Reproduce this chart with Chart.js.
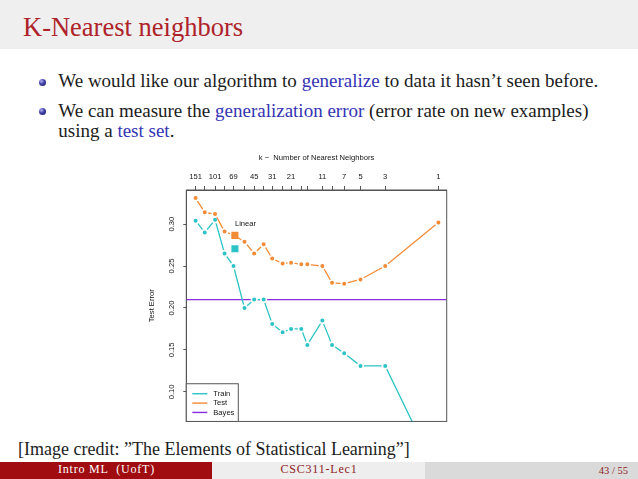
<!DOCTYPE html>
<html><head><meta charset="utf-8">
<script src="https://cdn.jsdelivr.net/npm/chart.js@4.4.0/dist/chart.umd.min.js"></script>
<style>
html,body{margin:0;padding:0;width:638px;height:479px;overflow:hidden;background:#fff;}
.abs{position:absolute;white-space:nowrap;}
.serif{font-family:"Liberation Serif","Times New Roman",serif;}
#titlebar{left:0;top:0;width:638px;height:49px;background:#EFEFEF;}
#title{left:23px;top:13.8px;font-size:26.5px;line-height:26.5px;color:#AE2229;}
.bul{left:58.3px;font-size:19px;line-height:19px;color:#1c1c1c;}
.hl{color:#3434B4;}
.ball{width:7px;height:7px;border-radius:50%;left:39.2px;background:radial-gradient(circle at 35% 32%, #b8b8f0 0%, #4646b0 40%, #15155a 100%);}
#credit{left:18px;top:440.4px;font-size:18px;line-height:18px;color:#1c1c1c;}
.fb{top:462.3px;height:16.7px;}
.ft{top:463.3px;font-size:12px;line-height:12px;}
#wrap{position:absolute;left:130px;top:145px;width:330px;height:285px;}
</style>
</head>
<body>
<div class="abs" id="titlebar"></div>
<div class="abs serif" id="title">K-Nearest neighbors</div>

<div class="abs ball" style="top:79.2px"></div>
<div class="abs serif bul" style="top:71.4px">We would like our algorithm to <span class="hl">generalize</span> to data it hasn’t seen before.</div>
<div class="abs ball" style="top:108.2px"></div>
<div class="abs serif bul" style="top:101.4px">We can measure the <span class="hl">generalization error</span> (error rate on new examples)</div>
<div class="abs serif bul" style="top:121.4px">using a <span class="hl">test set</span>.</div>

<div id="wrap"><canvas id="c"></canvas></div>

<div class="abs serif" id="credit">[Image credit: ”The Elements of Statistical Learning”]</div>

<div class="abs fb" style="left:0;width:212px;background:#A00C10;"></div>
<div class="abs fb" style="left:212px;width:213px;background:#EEEEEE;"></div>
<div class="abs fb" style="left:425px;width:213px;background:#DADADA;"></div>
<div class="abs serif ft" style="left:0;width:213px;text-align:center;color:#fff;letter-spacing:0.8px;">Intro ML&nbsp;&nbsp;(UofT)</div>
<div class="abs serif ft" style="left:212px;width:214px;text-align:center;color:#8E1B1B;letter-spacing:0.8px;">CSC311-Lec1</div>
<div class="abs serif ft" style="left:500px;width:128px;text-align:right;color:#8E1B1B;font-size:10.5px;top:464.5px;">43 / 55</div>

<script>
// ---- data ----
const kValues   = [151,125,101,83,69,55,45,37,31,25,21,17,15,11,9,7,5,3,1];
const kLabeled  = [151,101,69,45,31,21,11,7,5,3,1];
const trainError = [0.304,0.290,0.305,0.265,0.250,0.200,0.210,0.210,0.181,0.171,0.175,0.175,0.156,0.185,0.156,0.146,0.131,0.131,0.000];
const testError  = [0.331,0.314,0.312,0.291,0.287,0.279,0.265,0.276,0.259,0.253,0.254,0.252,0.252,0.250,0.230,0.229,0.234,0.250,0.302];
const bayesError = 0.21;
const linearK     = [67];
const linearTrain = [0.2705];
const linearTest  = [0.2865];
const yTicks  = [0.10,0.15,0.20,0.25,0.30];
const kRange  = [0.842, 183];
const errRange = [0.0648, 0.3406];
const linearLabel = {text:'Linear', k:67, err:0.300};

const CYAN='#2CC3C6', ORANGE='#F28B36', PURPLE='#8A2BE2';
Chart.defaults.font.family = '"Liberation Sans", Arial, sans-serif';
Chart.defaults.font.size = 7.6;
Chart.defaults.color = '#151515';

const pts = (ks, vs) => ks.map((k,i)=>({x:k, y:vs[i]}));

const framePlugin = {
  id:'frame',
  afterDatasetsDraw(chart){
    const {ctx, chartArea:a} = chart;
    ctx.save();
    ctx.strokeStyle='#555'; ctx.lineWidth=1;
    ctx.strokeRect(a.left, a.top, a.right-a.left, a.bottom-a.top);
    const xs=chart.scales.x, ys=chart.scales.y;
    ctx.fillStyle='#151515'; ctx.font='7.6px "Liberation Sans", Arial, sans-serif';
    ctx.textAlign='left'; ctx.textBaseline='middle';
    ctx.fillText(linearLabel.text, xs.getPixelForValue(linearLabel.k), ys.getPixelForValue(linearLabel.err));
    const items = chart.data.datasets.filter(d=>d.inLegend);
    const bx=a.left, bw=52, bh=37.7, by=a.bottom-bh;
    ctx.fillStyle='#fff'; ctx.fillRect(bx,by,bw,bh);
    ctx.strokeStyle='#555'; ctx.strokeRect(bx,by,bw,bh);
    items.forEach((d,i)=>{
      const y = by+10+i*9.35;
      ctx.strokeStyle=d.borderColor; ctx.lineWidth=1.4;
      ctx.beginPath(); ctx.moveTo(bx+6,y); ctx.lineTo(bx+21,y); ctx.stroke();
      ctx.fillStyle='#151515'; ctx.fillText(d.label, bx+27, y);
    });
    ctx.restore();
  }
};

const series = (label,color,data,order)=>({
  label, data, borderColor:color, backgroundColor:color, borderWidth:1.3,
  pointRadius:2.8, pointBorderWidth:1.6, pointBorderColor:'#fff', pointBackgroundColor:color,
  pointHoverRadius:2.8, tension:0, inLegend:true, order
});

new Chart(document.getElementById('c'), {
  type:'line',
  data:{
    datasets:[
      {label:'Linear test', data:pts(linearK, linearTest), showLine:false, pointStyle:'rect',
       pointRadius:5, pointBackgroundColor:ORANGE, pointBorderColor:ORANGE, pointBorderWidth:0, order:0},
      {label:'Linear train', data:pts(linearK, linearTrain), showLine:false, pointStyle:'rect',
       pointRadius:5, pointBackgroundColor:CYAN, pointBorderColor:CYAN, pointBorderWidth:0, order:0},
      series('Train', CYAN, pts(kValues, trainError), 2),
      series('Test', ORANGE, pts(kValues, testError), 1),
      {label:'Bayes', data:[{x:kRange[0],y:bayesError},{x:kRange[1],y:bayesError}], borderColor:PURPLE,
       backgroundColor:PURPLE, borderWidth:1.4, pointRadius:0, inLegend:true, order:3}
    ]
  },
  options:{
    responsive:true, maintainAspectRatio:false, animation:false,
    layout:{padding:{left:0, top:0, right:13.3, bottom:7.3}},
    plugins:{legend:{display:false}, tooltip:{enabled:false}},
    scales:{
      x:{
        type:'logarithmic', position:'top', reverse:true, min:kRange[0], max:kRange[1],
        afterBuildTicks(s){ s.ticks = kValues.map(v=>({value:v})); },
        afterFit(s){ s.height = 45; },
        ticks:{autoSkip:false, maxRotation:0, minRotation:0, padding:5,
          callback:(v)=> kLabeled.includes(v) ? String(v) : ''},
        grid:{drawOnChartArea:false, drawTicks:true, tickLength:4, color:'#555'},
        border:{display:true, color:'#555'},
        title:{display:true, text:'k −  Number of Nearest Neighbors', padding:{top:8.2, bottom:0}}
      },
      y:{
        type:'linear', min:errRange[0], max:errRange[1],
        afterBuildTicks(s){ s.ticks = yTicks.map(v=>({value:v})); },
        afterFit(s){ s.width = 56.3; },
        ticks:{minRotation:90, maxRotation:90, crossAlign:'center', padding:4,
          callback:(v)=> v.toFixed(2)},
        grid:{drawOnChartArea:false, drawTicks:true, tickLength:3, color:'#555'},
        border:{display:true, color:'#555'},
        title:{display:true, text:'Test Error', padding:{top:17.2, bottom:0}}
      }
    }
  },
  plugins:[framePlugin]
});
</script>
</body></html>
